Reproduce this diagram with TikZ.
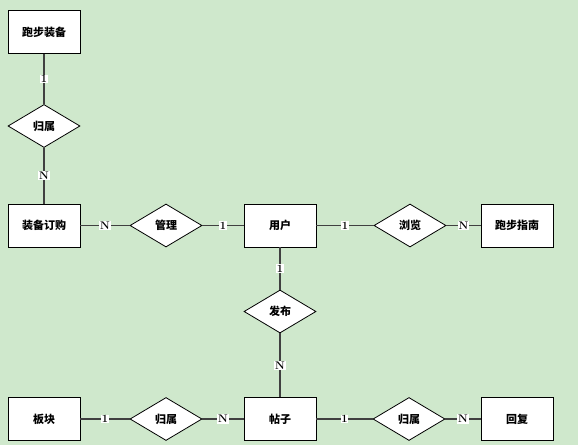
\documentclass[tikz,border=0pt]{standalone}
\usepackage{fontspec}
\newfontfamily\cjk{Noto Sans CJK SC}
\usetikzlibrary{shapes.geometric,shadows}
\definecolor{bgreen}{HTML}{CFE8CC}
\tikzset{
ent/.style={draw, fill=white, line width=0.8pt, minimum width=72pt, minimum height=43pt, font=\cjk\bfseries\fontsize{11}{13}\selectfont, drop shadow={shadow xshift=0.9pt,shadow yshift=-0.9pt,opacity=1,fill=black!70}},
rel/.style={diamond, draw, fill=white, line width=0.8pt, inner sep=0pt, minimum width=72pt, minimum height=43pt, font=\cjk\bfseries\fontsize{11}{13}\selectfont},
card/.style={fill=white, inner sep=0.8pt, font=\bfseries\fontsize{11}{12}\selectfont},
lnk/.style={draw=black!75, line width=1.1pt}
}
\begin{document}
\begin{tikzpicture}[x=1pt,y=1pt]
\fill[bgreen] (0,0) rectangle (578,445);
\useasboundingbox (0,0) rectangle (578,445);

\node[ent] (e0) at (44,413) {跑步装备};
\node[ent] (e1) at (44,219.5) {装备订购};
\node[ent] (e2) at (280,219.5) {用户};
\node[ent] (e3) at (517,219.5) {跑步指南};
\node[ent] (e4) at (44,26) {板块};
\node[ent] (e5) at (280,26) {帖子};
\node[ent] (e6) at (517,26) {回复};

\node[rel] (r0) at (44,319) {归属};
\node[rel] (r1) at (166,219.5) {管理};
\node[rel] (r2) at (410,219.5) {浏览};
\node[rel] (r3) at (280,133.5) {发布};
\node[rel] (r4) at (166,26) {归属};
\node[rel] (r5) at (409,26) {归属};

\foreach \a/\b/\c in {e0/r0/1, r0/e1/N, e1/r1/N, r1/e2/1, e2/r2/1, r2/e3/N, e2/r3/1, r3/e5/N, e4/r4/1, r4/e5/N, e5/r5/1, r5/e6/N} {
\draw[lnk] (\a) -- node[card] {\c} (\b);
};
\end{tikzpicture}
\end{document}
